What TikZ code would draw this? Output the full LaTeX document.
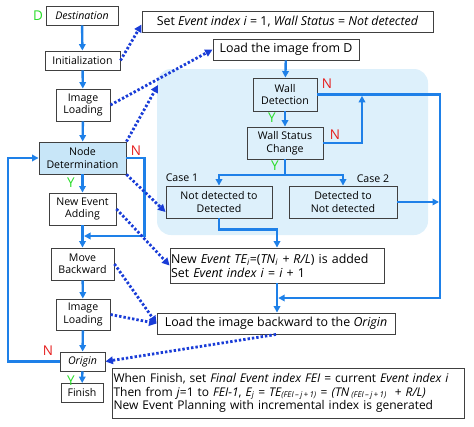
\documentclass[tikz,border=0pt]{standalone}
\usepackage{fontspec}
\setmainfont{Open Sans}
\usetikzlibrary{arrows.meta}
\definecolor{flowblue}{RGB}{30,128,232}
\definecolor{dotblue}{RGB}{25,60,215}
\definecolor{zonebg}{RGB}{221,240,251}
\definecolor{detbg}{RGB}{200,230,248}
\definecolor{yesgreen}{RGB}{40,220,40}
\definecolor{nored}{RGB}{230,30,30}
\tikzset{
  box/.style={draw=black!75, line width=0.9pt, fill=white, align=center, inner sep=1pt, font=\fontsize{10.6}{12.5}\selectfont},
  note/.style={box, font=\fontsize{12.4}{14}\selectfont},
  flow/.style={draw=flowblue, line width=2.4pt, -{Triangle[length=6.5pt,width=6.5pt]}},
  line/.style={draw=flowblue, line width=2.4pt},
  link/.style={draw=dotblue, line width=2.8pt, dash pattern=on 2.4pt off 2pt, -{Triangle[length=7.5pt,width=7.5pt]}},
  yes/.style={text=yesgreen, inner sep=0pt, font=\fontsize{13.5}{14}\selectfont},
  no/.style={text=nored, inner sep=0pt, font=\fontsize{13.5}{14}\selectfont},
  tag/.style={inner sep=0pt, font=\fontsize{10.6}{12}\selectfont}
}
\begin{document}
\begin{tikzpicture}[x=1pt,y=-1pt]
\useasboundingbox (0,0) rectangle (474,426);
\node[fill=zonebg, rounded corners=14pt, minimum width=271pt, minimum height=166pt] (zone) at (292.5,152) {};
\node[box, minimum width=72pt, minimum height=19pt] (dest) at (82,15.5) {\textit{Destination}};
\node[box, minimum width=75pt, minimum height=19pt] (init) at (82.5,60.5) {Initialization};
\node[box, minimum width=54pt, minimum height=32pt] (imgA) at (83,105) {Image\\Loading};
\node[box, fill=detbg, minimum width=87pt, minimum height=32pt] (ndet) at (82.5,158) {Node\\Determination};
\node[box, minimum width=67pt, minimum height=32pt] (adding) at (82.5,209) {New Event\\Adding};
\node[box, minimum width=63pt, minimum height=32pt] (back) at (82.5,264) {Move\\Backward};
\node[box, minimum width=54pt, minimum height=31pt] (imgB) at (83,314.5) {Image\\Loading};
\node[box, minimum width=45pt, minimum height=19pt] (origin) at (82.5,361.5) {\textit{Origin}};
\node[box, minimum width=42pt, minimum height=19pt] (finish) at (82,393) {Finish};
\node[note, minimum width=291pt, minimum height=21pt] (setev) at (287.5,21.5) {Set \textit{Event index i} = 1, \textit{Wall Status} = \textit{Not detected}};
\node[note, minimum width=146pt, minimum height=21pt] (loadD) at (286,49.5) {Load the image from D};
\node[box, fill=zonebg, minimum width=64pt, minimum height=33pt] (wdet) at (285,94.5) {Wall\\Detection};
\node[box, fill=zonebg, minimum width=76pt, minimum height=32pt] (wsc) at (285,143) {Wall Status\\Change};
\node[box, fill=zonebg, minimum width=106pt, minimum height=32pt] (case1) at (219,202) {Not detected to\\Detected};
\node[box, fill=zonebg, minimum width=108pt, minimum height=32pt] (case2) at (343,202) {Detected to\\Not detected};
\node[note, align=left, text width=212pt, minimum height=35pt] (newTE) at (277,265.5) {New \textit{Event TE\textsubscript{i}}=(\textit{TN\textsubscript{i} + R/L}) is added\\Set \textit{Event index i} = \textit{i} + 1};
\node[note, minimum width=238pt, minimum height=21pt] (loadB) at (276,323.5) {Load the image backward to the \textit{Origin}};
\node[box, align=left, font=\fontsize{12}{13.5}\selectfont, text width=350pt, minimum height=50pt] (final) at (288.5,393) {When Finish, set \textit{Final Event index FEI} = current \textit{Event index i}\\Then from \textit{j}=1 to \textit{FEI-1}, \textit{E\textsubscript{j}} = \textit{TE\textsubscript{(FEI\,--\,j\,+\,1)}} = \textit{(TN\,\textsubscript{(FEI\,--\,j\,+\,1)}} \ + \textit{R/L)}\\New Event Planning with incremental index is generated};
\node[tag] (case1tag) at (182,178) {Case 1};
\node[tag] (case2tag) at (373,179) {Case 2};
\node[yes] (dtag) at (38,15.5) {D};
\node[yes] (y1) at (71,183) {Y};
\node[yes] (y2) at (71,381) {Y};
\node[yes] (y3) at (272,118) {Y};
\node[yes] (y4) at (275,166) {Y};
\node[no] (n1) at (136,151) {N};
\node[no] (n2) at (48,351) {N};
\node[no] (n3) at (327,84) {N};
\node[no] (n4) at (335,135) {N};
\coordinate (joinA) at (84,236);
\coordinate (joinB) at (278.2,298);
\coordinate (joinC) at (362,95.8);
\coordinate (joinD) at (439,202);
\coordinate (split) at (285,175);
\coordinate (zoneIn) at (158,85);
\draw[flow] (dest) -- (init);
\draw[flow] (init) -- (imgA);
\draw[flow] (imgA) -- (ndet);
\draw[flow] (ndet) -- (adding);
\draw[flow] (adding) -- (back);
\draw[flow] (back) -- (imgB);
\draw[flow] (imgB) -- (origin);
\draw[flow] (origin) -- (finish);
\draw[flow] (ndet.east) -- ++(18,0) |- (joinA);
\draw[flow] (origin.west) -- (8,361.5) |- (ndet.west);
\draw[flow] (loadD) -- (wdet);
\draw[flow] (wdet) -- (wsc);
\draw[flow] (wdet.east) -- (440,94.5) |- (joinB);
\draw[flow] (wsc.east) -| (joinC);
\draw[line] (wsc.south) -- (split);
\draw[flow] (split) -| (case1.north);
\draw[flow] (split) -| (case2.north);
\draw[flow] (case2.east) -- (joinD);
\draw[flow] (case1.south) -- ++(0,11) -| (newTE.north);
\draw[flow] (newTE.south) -- (newTE.south |- loadB.north);
\draw[link] (init.east) -- ([yshift=-3pt]setev.west);
\draw[link] (imgA.east) -- (loadD.west);
\draw[link] (ndet.north east) -- (zoneIn);
\draw[link] (ndet.south east) -- ([yshift=-10pt]case1.west);
\draw[link] (adding.east) -- (newTE.west);
\draw[link] (back.east) -- (loadB.west);
\draw[link] (imgB.east) -- (loadB.west);
\draw[link] (loadB.south) -- (origin.east);
\end{tikzpicture}
\end{document}
